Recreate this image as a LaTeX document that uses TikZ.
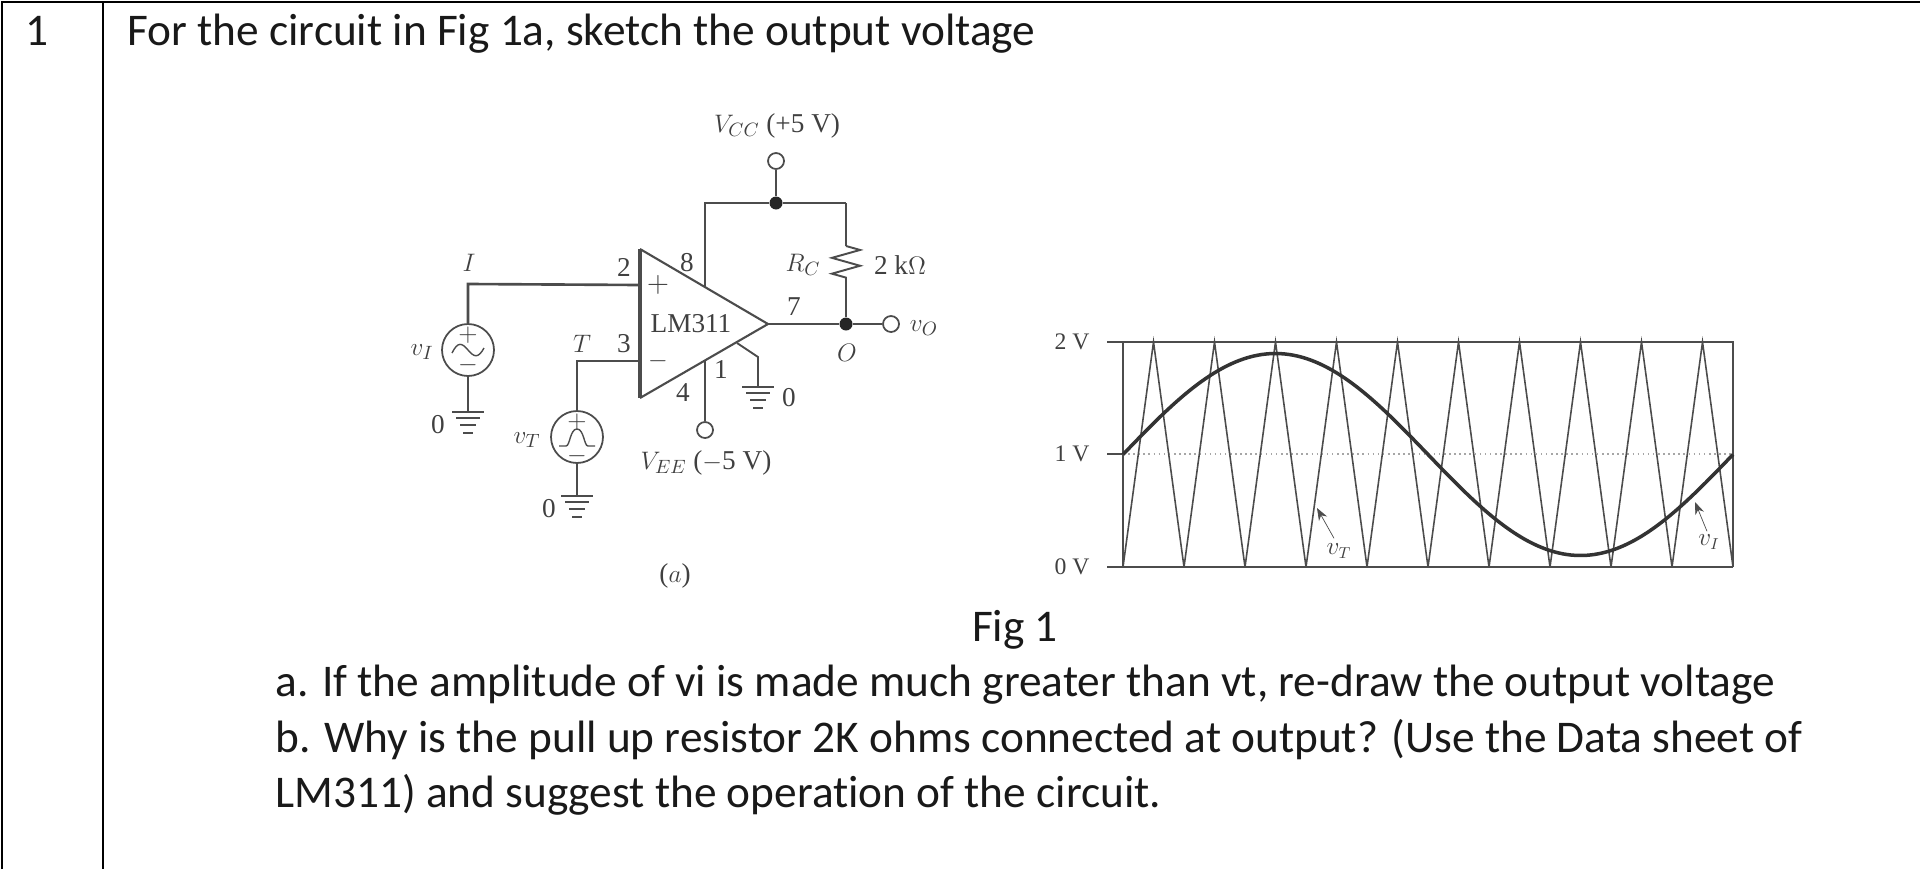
\documentclass[tikz,border=0pt]{standalone}
\usepackage{amsmath,amssymb}
\usepackage{fontspec}
\setmainfont[Ligatures=NoCommon]{Carlito}
\newfontfamily\figfont{Liberation Serif}
\usetikzlibrary{positioning,calc,decorations.pathmorphing,arrows.meta}
\definecolor{wirecol}{gray}{0.3}
\definecolor{figtext}{gray}{0.25}
\tikzset{
    wire/.style={draw=wirecol, line width=1.1pt},
    conn/.style={circle, draw=wirecol, fill=white, line width=1pt, minimum size=0.32cm, inner sep=0pt},
    dotnode/.style={circle, fill=black!85, minimum size=0.26cm, inner sep=0pt},
    srcnode/.style={circle, draw=wirecol, line width=1pt, minimum size=1.04cm, inner sep=0pt},
    body/.style={font=\fontsize{25.8}{30}\selectfont, text=black!90, inner sep=0pt, anchor=base west},
    figlab/.style={font=\figfont\fontsize{15.5}{18}\selectfont, text=figtext, inner sep=0pt},
    plotlab/.style={font=\figfont\fontsize{13.5}{16}\selectfont, text=figtext, inner sep=0pt},
    gnd/.pic={
        \draw[wire] (-16,0) -- (16,0);
        \draw[wire] (-12,6) -- (12,6);
        \draw[wire] (-8,13) -- (8,13);
        \draw[wire] (-5,21) -- (5,21);
    }
}
\begin{document}
\begin{tikzpicture}[x=0.02cm,y=-0.02cm]
    \useasboundingbox (0,0) rectangle (1920,869);
    % table lines
    \draw[line width=1.3pt] (2,869) -- (2,2) -- (1920,2);
    \draw[line width=0.9pt] (103,2) -- (103,869);
    \node[body] (num) at (25,45) {1};
    \node[body] (head) at (127,45) {For the circuit in Fig 1a, sketch the output voltage};
    \node[body, anchor=base] (figcap) at (1015,641) {Fig 1};
    \node[body] (parta) at (275,696) {a. If the amplitude of vi is made much greater than vt, re-draw the output voltage};
    \node[body] (partb) at (275,752) {b. Why is the pull up resistor 2K ohms connected at output? (Use the Data sheet of};
    \node[body] (partc) at (275,807) {LM311) and suggest the operation of the circuit.};

    % comparator
    \coordinate (tl) at (640,249);
    \coordinate (bl) at (640,398);
    \coordinate (apex) at (768,324);
    \draw[wire, line width=1.2pt] (tl) -- (apex) -- (bl);
    \draw[wire, line width=2pt] (tl) -- (bl);
    \node[figlab] (lm) at (691,324) {LM311};
    \node[figlab, font=\figfont\bfseries\fontsize{17}{18}\selectfont] (plus) at (658,285) {$+$};
    \node[figlab] (minus) at (658,361) {$-$};
    \coordinate (pin2) at (640,285);
    \coordinate (pin3) at (640,361);
    \coordinate (pin8) at (705,287);
    \coordinate (pin4) at (705,360);
    \coordinate (pin1) at (737,343);

    % supply and pull up
    \node[dotnode] (top) at (776,203) {};
    \node[conn] (vcc) at (776,161) {};
    \node[dotnode] (out) at (846,324) {};
    \node[conn] (vo) at (891,324) {};
    \coordinate (rtop) at (846,246);
    \coordinate (rbot) at (846,281);
    \draw[wire, line width=1.5pt] (vcc) -- (top);
    \draw[wire] (pin8) -- (705,203) -- (top);
    \draw[wire] (top) -- (846,203);
    \draw[wire, line width=1.5pt] (846,203) -- (rtop);
    \draw[wire, decorate, decoration={zigzag, segment length=9pt, amplitude=8pt}] (rtop) -- (rbot);
    \draw[wire, line width=1.5pt] (rbot) -- (out);
    \draw[wire] (apex) -- (out) -- (vo);

    % sources
    \node[srcnode] (srci) at (468,350) {};
    \node[srcnode] (srct) at (577,437) {};
    \coordinate (nodei) at (468,284);
    \coordinate (nodet) at (577,361);
    \draw[wire, line width=1.5pt] (srci.north) -- (nodei) -- (pin2);
    \draw[wire] (srct.north) -- (nodet) -- (pin3);
    \node[figlab] (ip) at (468,335) {$+$};
    \node[figlab] (im) at (468,365) {$-$};
    \draw[wire, line width=0.8pt] (452,353) .. controls (458,341) and (462,343) .. (468,350) .. controls (474,357) and (478,359) .. (484,348);
    \node[figlab] (tp) at (577,422) {$+$};
    \node[figlab] (tm) at (577,456) {$-$};
    \draw[wire, line width=0.8pt] (559,446) -- (566,446) .. controls (570,446) and (570,429) .. (577,429) .. controls (584,429) and (584,446) .. (588,446) -- (595,446);

    % grounds
    \coordinate (gi) at (468,412);
    \coordinate (gt) at (577,496);
    \coordinate (ga) at (758,387);
    \coordinate (gabend) at (758,357);
    \draw[wire] (srci.south) -- (gi);
    \draw[wire] (srct.south) -- (gt);
    \draw[wire] (pin1) -- (gabend) -- (ga);
    \pic at (gi) {gnd};
    \pic at (gt) {gnd};
    \pic at (ga) {gnd};
    \node[conn] (vee) at (705,430) {};
    \draw[wire] (pin4) -- (vee);

    % circuit labels
    \node[figlab] (lvcc) at (777,126) {$V_{CC}$ (+5 V)};
    \node[figlab] (lvee) at (706,463) {$V_{EE}$ ($-$5 V)};
    \node[figlab] (lrc) at (803,265) {$R_C$};
    \node[figlab] (lr) at (900,265) {2 k$\Omega$};
    \node[figlab] (l2) at (624,267) {2};
    \node[figlab] (l3) at (624,344) {3};
    \node[figlab] (l8) at (687,263) {8};
    \node[figlab] (l7) at (794,307) {7};
    \node[figlab] (l1) at (721,370) {1};
    \node[figlab] (l4) at (683,393) {4};
    \node[figlab] (li) at (469,263) {$I$};
    \node[figlab] (lt) at (582,344) {$T$};
    \node[figlab] (lo) at (847,353) {$O$};
    \node[figlab] (lvo) at (924,328) {$v_O$};
    \node[figlab] (lvi) at (422,352) {$v_I$};
    \node[figlab] (lvt) at (527,440) {$v_T$};
    \node[figlab] (l0a) at (438,425) {0};
    \node[figlab] (l0b) at (549,509) {0};
    \node[figlab] (l0c) at (789,398) {0};
    \node[figlab] (la) at (675,576) {($a$)};

    % waveforms
    \coordinate (t2) at (1107,342);
    \coordinate (t1) at (1107,454);
    \coordinate (t0) at (1107,567);
    \draw[wire, line width=1.4pt] (t2) -- (1733,342) -- (1733,567);
    \draw[wire, line width=1.4pt] (t0) -- (1733,567);
    \draw[wire, line width=0.9pt] (1123,342) -- (1123,567);
    \draw[wire] (t1) -- (1123,454);
    \draw[gray!70, dotted, line width=0.9pt] (1123,454) -- (1733,454);
    \foreach \n in {0,...,9}
        \draw[wire, line width=0.9pt] ({1123+61*\n},567) -- ({1123+61*\n+30.5},342) -- ({1123+61*(\n+1)},567);
    \draw[black!80, line width=2pt] plot[domain=0:360, samples=80, smooth] ({1123+\x*1.6944},{454.5-101*sin(\x)});
    \node[plotlab] (l2v) at (1072,342) {2 V};
    \node[plotlab] (l1v) at (1072,454) {1 V};
    \node[plotlab] (l0v) at (1072,567) {0 V};
    \node[plotlab] (lplt) at (1339,551) {$v_T$};
    \node[plotlab] (lpli) at (1709,542) {$v_I$};
    \draw[-{Stealth[length=7pt]}, wirecol] (lplt.north) ++(-5,-5) -- (1317,508);
    \draw[-{Stealth[length=7pt]}, wirecol] (lpli.north) ++(-2,-3) -- (1695,502);
\end{tikzpicture}
\end{document}
